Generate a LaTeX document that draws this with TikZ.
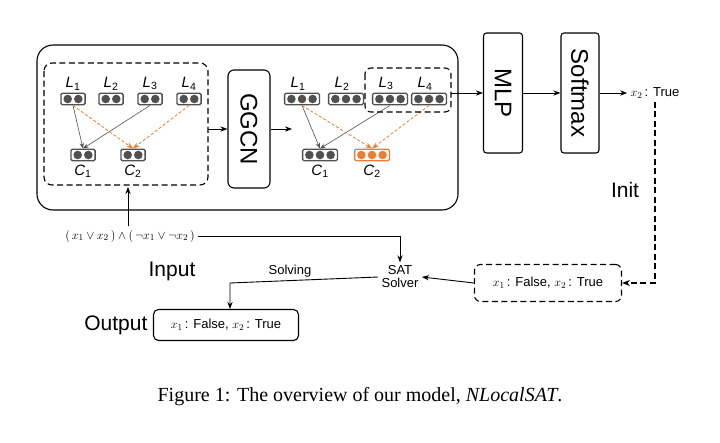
\documentclass[tikz,border=0pt]{standalone}
\usepackage{fontspec}
\setmainfont{Liberation Sans}
\newfontfamily\capfont{Liberation Serif}
\usetikzlibrary{arrows.meta,positioning}
\newcommand{\dotrow}[2]{\foreach \i in {1,...,#1}{\tikz\fill[#2] (0,0) circle (4.3pt);\hspace{2pt}}\unskip}
\newcommand{\fs}[1]{\fontsize{#1}{#1}\selectfont}
\definecolor{dotgray}{RGB}{80,80,80}
\definecolor{satorange}{RGB}{237,125,49}
\tikzset{
	every node/.style={font=\fs{13}},
	vec/.style={draw=dotgray, line width=1.3pt, rounded corners=1.5pt, inner xsep=2.5pt, inner ysep=1.5pt},
	lab/.style={font=\fs{15}\itshape},
	big/.style={font=\fs{21}},
	blk/.style={draw, line width=1.1pt, rounded corners=6pt},
	dashbox/.style={draw, dash pattern=on 6pt off 3.5pt, line width=1.1pt, rounded corners=8pt},
	gedge/.style={-Stealth, draw=dotgray, line width=0.6pt},
	oedge/.style={-Stealth, draw=satorange, dash pattern=on 3pt off 2pt, line width=0.8pt},
	arr/.style={-Stealth, line width=0.9pt}
}
\begin{document}
\begin{tikzpicture}[x=1pt,y=-1pt]
	\useasboundingbox (0,0) rectangle (720,442);
	% outer model box and left graph
	\draw[blk, rounded corners=16pt] (37,45) rectangle (458,210);
	\draw[dashbox] (44,63) rectangle (208,185);
	\node[vec] (a1) at (73,99)  {\dotrow{2}{dotgray}};
	\node[vec] (a2) at (111,99) {\dotrow{2}{dotgray}};
	\node[vec] (a3) at (150,99) {\dotrow{2}{dotgray}};
	\node[vec] (a4) at (189,99) {\dotrow{2}{dotgray}};
	\node[vec] (ac1) at (83,155)  {\dotrow{2}{dotgray}};
	\node[vec] (ac2) at (133,155) {\dotrow{2}{dotgray}};
	\foreach \n/\k in {a1/1,a2/2,a3/3,a4/4}
		\node[lab, above=-1pt of \n] {L\textsubscript{\upshape\k}};
	\node[lab, below=0pt of ac1] {C\textsubscript{\upshape 1}};
	\node[lab, below=0pt of ac2] {C\textsubscript{\upshape 2}};
	\draw[gedge] (a1.south) -- (ac1.north);
	\draw[gedge] (a3.south) -- (ac1.north);
	\draw[oedge] (a1.south) -- (ac2.north);
	\draw[oedge] (a4.south) -- (ac2.north);
	% GGCN
	\node[blk, minimum width=42pt, minimum height=118pt] (ggcn) at (249,129) {\rotatebox{-90}{\fs{24}GGCN}};
	\coordinate (lout) at (208,129);
	\coordinate (rin) at (292,129);
	\draw[arr] (lout) -- (ggcn.west);
	\draw[arr] (ggcn.east) -- (rin);
	% right graph
	\node[vec] (b1) at (302,99) {\dotrow{3}{dotgray}};
	\node[vec] (b2) at (346,99) {\dotrow{3}{dotgray}};
	\node[vec] (b3) at (390,99) {\dotrow{3}{dotgray}};
	\node[vec] (b4) at (429,99) {\dotrow{3}{dotgray}};
	\node[vec] (bc1) at (320,155) {\dotrow{3}{dotgray}};
	\node[vec, draw=satorange] (bc2) at (372,155) {\dotrow{3}{satorange}};
	\foreach \n/\k in {b1/1,b2/2,b3/3,b4/4}
		\node[lab, above=-1pt of \n, xshift=-4pt] {L\textsubscript{\upshape\k}};
	\node[lab, below=0pt of bc1] {C\textsubscript{\upshape 1}};
	\node[lab, below=0pt of bc2] {C\textsubscript{\upshape 2}};
	\draw[gedge] (b1.south) -- (bc1.north);
	\draw[gedge] (b3.south) -- (bc1.north);
	\draw[oedge] (b1.south) -- (bc2.north);
	\draw[oedge] (b4.south) -- (bc2.north);
	\draw[dashbox, rounded corners=6pt] (365,68) rectangle (451,112);
	% MLP and softmax
	\node[blk, rounded corners=3pt, minimum width=39pt, minimum height=120pt] (mlp) at (503,93) {\rotatebox{-90}{\fs{24}MLP}};
	\node[blk, rounded corners=3pt, minimum width=38pt, minimum height=120pt] (soft) at (580,93) {\rotatebox{-90}{\fs{24}Softmax}};
	\node (pred) at (655,93) {$x_2$\,: True};
	\coordinate (rout) at (451,93);
	\draw[arr] (rout) -- (mlp.west);
	\draw[arr] (mlp.east) -- (soft.west);
	\draw[arr] (soft.east) -- (pred.west);
	% solver part
	\node (form) at (130,236) {$(\,x_1 \vee x_2\,) \wedge (\,\neg x_1 \vee \neg x_2\,)$};
	\node[align=center] (sat) at (400,277) {SAT\\Solver};
	\node[dashbox, rounded corners=6pt, minimum width=147pt, minimum height=37pt] (init) at (548,283) {$x_1$\,: False, $x_2$\,: True};
	\node[blk, rounded corners=5pt, minimum width=145pt, minimum height=31pt] (out) at (226,325) {$x_1$\,: False, $x_2$\,: True};
	\node[big, left=2pt of out] {Output};
	\node[big] at (172,271) {Input};
	\node[big] at (625,190) {Init};
	\coordinate (gin) at (128,187);
	\draw[arr] (form.north -| gin) -- (gin);
	\draw[arr] (form.east) -- (form.east -| sat.north) -- (sat.north);
	\draw[dash pattern=on 6pt off 3.5pt, line width=1.1pt, -Stealth] (pred.south) -- (pred.south |- init.east) -- (init.east);
	\draw[arr] (init.west) -- (sat.east);
	\draw[arr] (sat.west) -- (230,283) -- (out.north -| 230,0);
	\node at (290,271) {Solving};
	% caption
	\node[font=\capfont\fs{20}] at (360,397) {Figure 1: The overview of our model, \textit{NLocalSAT}.};
\end{tikzpicture}
\end{document}
